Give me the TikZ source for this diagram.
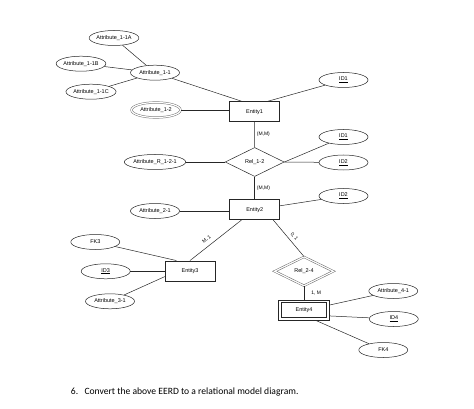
\documentclass[tikz,border=0pt]{standalone}
\usepackage{fontspec}
\setmainfont{Liberation Sans}
\newfontfamily\notefont{Carlito}
\usetikzlibrary{shapes.geometric}
\tikzset{
	attr/.style={draw=black!85, ellipse, inner sep=0pt, minimum width=49pt, minimum height=15pt, font=\fontsize{5.5}{6}\selectfont},
	keyattr/.style={attr, double, double distance=1.2pt, draw=black!55},
	entity/.style={draw=black!85, rectangle, inner sep=0pt, minimum width=50pt, minimum height=20pt, font=\fontsize{5.5}{6}\selectfont},
	innerbox/.style={draw=black!85, rectangle, inner sep=0pt, minimum width=45pt, minimum height=15pt},
	rel/.style={draw=black!85, diamond, inner sep=0pt, minimum width=59pt, minimum height=29pt, font=\fontsize{5.5}{6}\selectfont},
	weakrel/.style={rel, double, double distance=1.2pt, draw=black!60},
	card/.style={font=\fontsize{5}{6}\selectfont, inner sep=1pt},
	link/.style={draw=black!85}
}
\begin{document}
\begin{tikzpicture}[x=1pt,y=-1pt, line width=0.5pt]
	\useasboundingbox (0,0) rectangle (474,409);
	
	\node[attr] (a11A) at (114,38) {Attribute\_1-1A};
	\node[attr] (a11B) at (81,63.7) {Attribute\_1-1B};
	\node[attr] (a11) at (155,72.7) {Attribute\_1-1};
	\node[attr] (a11C) at (91,91.7) {Attribute\_1-1C};
	\node[keyattr] (a12) at (156,110) {Attribute\_1-2};
	\node[entity] (e1) at (254.5,111.7) {Entity1};
	\node[attr] (id1a) at (343.5,80) {\underline{ID1}};
	
	\node[rel] (r12) at (254.7,162) {Rel\_1-2};
	\node[attr] (aR) at (155,162) {Attribute\_R\_1-2-1};
	\node[attr] (id1b) at (343.5,137) {\underline{ID1}};
	\node[attr] (id2a) at (343.5,162.5) {\underline{ID2}};
	
	\node[entity] (e2) at (254.7,209.7) {Entity2};
	\node[attr] (a21) at (155,211) {Attribute\_2-1};
	\node[attr] (id2b) at (343.5,196) {\underline{ID2}};
	
	\node[entity] (e3) at (190,270.8) {Entity3};
	\node[attr] (fk3) at (95.3,242) {FK3};
	\node[attr] (id3) at (105.7,271.3) {\underline{ID3}};
	\node[attr] (a31) at (110,301.3) {Attribute\_3-1};
	
	\node[weakrel] (r24) at (304,271.3) {Rel\_2-4};
	\node[entity, minimum width=51pt] (e4) at (304,310) {Entity4};
	\node[innerbox] (e4in) at (e4) {};
	\node[attr] (a41) at (393.3,291) {Attribute\_4-1};
	\node[attr] (id4) at (393.8,319) {\underline{ID4}};
	\node[attr] (fk4) at (383.3,350) {FK4};
	
	\draw[link] (a11A) -- (a11);
	\draw[link] (a11B) -- (a11);
	\draw[link] (a11C) -- (a11);
	\draw[link] (a11) -- (e1.140);
	\draw[link] (a12) -- (e1.west |- a12);
	\draw[link] (e1.39) -- (id1a);
	
	\draw[link] (e1) -- (r12) node[card, midway, right=1pt] {(M,M)};
	\draw[link] (aR) -- (r12);
	\draw[link] (r12.east) -- (id1b);
	\draw[link] (r12.east) -- (id2a);
	\draw[link] (r12) -- (e2) node[card, midway, right=1pt] {(M,M)};
	
	\draw[link] (a21) -- (e2.west |- a21);
	\draw[link] (e2) -- (id2b);
	\draw[link] (e2.-142) -- (e3.north) node[card, pos=0.6, sloped, above=3pt] {M, 1};
	\draw[link] (e2.-29) -- (r24.north) node[card, pos=0.55, sloped, above=2pt] {0, 1};
	
	\draw[link] (fk3) -- (e3.143);
	\draw[link] (id3) -- (e3.west |- id3);
	\draw[link] (a31) -- (e3.-167);
	
	\draw[link] (r24) -- (e4) node[card, midway, right=6pt] {1, M};
	\draw[link] (e4.11) -- (a41);
	\draw[link] (e4.-13) -- (id4);
	\draw[link] (e4.-42) -- (fk4);
	
	\node[anchor=west, inner sep=0pt, font=\notefont\fontsize{9.6}{11}\selectfont] (note) at (70.7,391.7) {\makebox[13.6pt][l]{6.}Convert the above EERD to a relational model diagram.};
\end{tikzpicture}
\end{document}
